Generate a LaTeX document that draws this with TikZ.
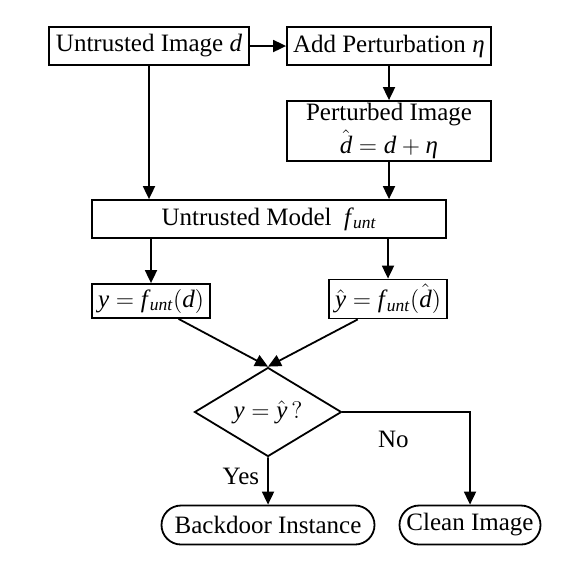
\documentclass[tikz,border=0pt]{standalone}
\usepackage{mathspec}
\setmainfont{Liberation Serif}
\setmathsfont(Digits,Latin,Greek){Liberation Serif}
\usetikzlibrary{arrows.meta,shapes.geometric,shapes.misc}
\tikzstyle{flowstyle}=[
    x=0.5pt, y=-0.5pt,
    >={Triangle[length=6.5pt,width=6pt]},
    line width=0.9pt,
    font=\fontsize{12.5}{13}\selectfont,
    every node/.style={inner sep=1pt},
]
\tikzstyle{procbox}=[draw, rectangle, minimum height=19pt, align=center]
\tikzstyle{testbox}=[draw, diamond, aspect=1.65, minimum width=73.5pt, minimum height=44.5pt, inner sep=0pt]
\tikzstyle{endbox}=[draw, rounded rectangle, minimum height=19.5pt]
\newcommand{\funt}{f_{\kern1pt unt}}

\begin{document}
\begin{tikzpicture}[flowstyle]
        \useasboundingbox (0,0) rectangle (565,564);
        \node[procbox, minimum width=100pt] (image) at (149,46) {Untrusted Image $d$};
        \node[procbox, minimum width=102pt] (perturb) at (389,46) {Add Perturbation $\eta$};
        \node[procbox, minimum width=102pt, minimum height=30pt] (perturbed) at (389,131) {Perturbed Image\\[1pt] $\hat{d}=d+\eta$};
        \node[procbox, minimum width=177pt] (model) at (269,219) {Untrusted Model\ \ $\funt$};
        \node[procbox, minimum width=59pt, minimum height=17pt] (outd) at (151,301) {$y=\funt(d)$};
        \node[procbox, minimum width=59pt, minimum height=19.5pt] (outp) at (388,299) {$\hat{y}=\funt(\hat{d})$};
        \node[testbox] (test) at (268,412) {$y=\hat{y}\,?$};
        \node[endbox, minimum width=108.5pt] (backdoor) at (268,525) {Backdoor Instance};
        \node[endbox, minimum width=72.5pt] (clean) at (470,525) {Clean Image};
        \draw[->] (image) -- (perturb);
        \draw[->] (perturb) -- (perturbed);
        \draw[->] (image.south) -- (image.south |- model.north);
        \draw[->] (perturbed.south) -- (perturbed.south |- model.north);
        \draw[->] (outd.north |- model.south) -- (outd);
        \draw[->] (outp.north |- model.south) -- (outp);
        \draw[->] (outd.-33) -- (test.north);
        \draw[->] (outp.-146) -- (test.north);
        \draw[->] (test) -- node[pos=0.4, left=3pt] {Yes} (backdoor);
        \draw[->] (test.east) -| node[pos=0.2, below=8pt] {No} (clean);
    \end{tikzpicture}
\end{document}
